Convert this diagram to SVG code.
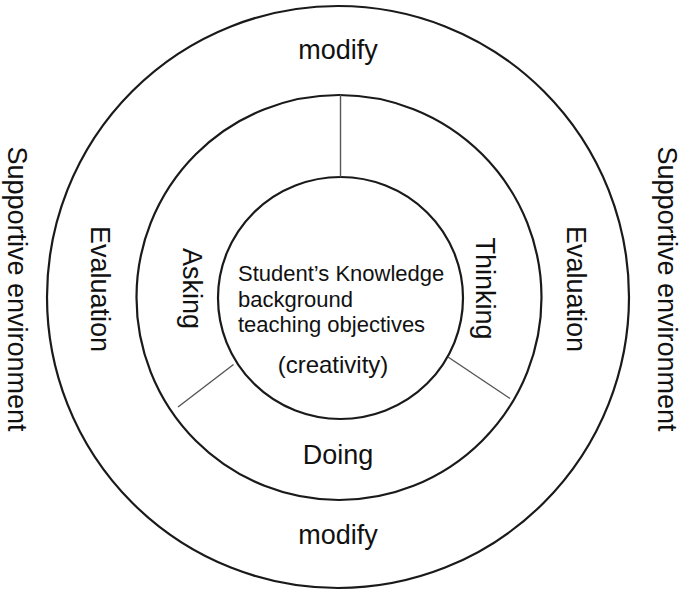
<svg xmlns="http://www.w3.org/2000/svg" width="685" height="591" viewBox="0 0 685 591">
<style>
.ring{fill:none;stroke:#1a1a1a;stroke-width:2.2}
.div{stroke:#555;stroke-width:1.4}
.lbl{font-family:"Liberation Sans",Arial,Helvetica,sans-serif;font-size:27px;fill:#111;text-anchor:middle}
.ctr{font-family:"Liberation Sans",Arial,Helvetica,sans-serif;font-size:22px;fill:#111}
</style>
<rect width="685" height="591" fill="#fff"/>
<g id="outer-ring">
<ellipse class="ring" cx="338" cy="297" rx="291" ry="291"/>
<text class="lbl" x="338" y="59">modify</text>
<text class="lbl" x="338" y="544">modify</text>
<text class="lbl" transform="translate(91,289) rotate(90)">Evaluation</text>
<text class="lbl" transform="translate(567,289) rotate(90)">Evaluation</text>
</g>
<g id="middle-ring">
<ellipse class="ring" cx="339" cy="297.5" rx="202.5" ry="202.5"/>
<text class="lbl" transform="translate(183,288.5) rotate(90)">Asking</text>
<text class="lbl" transform="translate(476,288.5) rotate(90)">Thinking</text>
<text class="lbl" x="338" y="464">Doing</text>
</g>
<g id="inner-circle">
<ellipse class="ring" cx="340.5" cy="298" rx="122.5" ry="121"/>
<text class="ctr" x="238" y="281">Student’s Knowledge</text>
<text class="ctr" x="238" y="306.5">background</text>
<text class="ctr" x="238" y="332">teaching objectives</text>
<text class="ctr" x="333" y="373" style="font-size:24px;text-anchor:middle">(creativity)</text>
</g>
<g id="environment">
<text class="lbl" transform="translate(8,289) rotate(90)">Supportive environment</text>
<text class="lbl" transform="translate(658,289) rotate(90)">Supportive environment</text>
</g>
<g id="connectors">
<line class="div" x1="340.5" y1="95" x2="340.5" y2="177"/>
<line class="div" x1="233.5" y1="364.5" x2="178" y2="407"/>
<line class="div" x1="448" y1="357" x2="510" y2="398.5"/>
</g>
</svg>
